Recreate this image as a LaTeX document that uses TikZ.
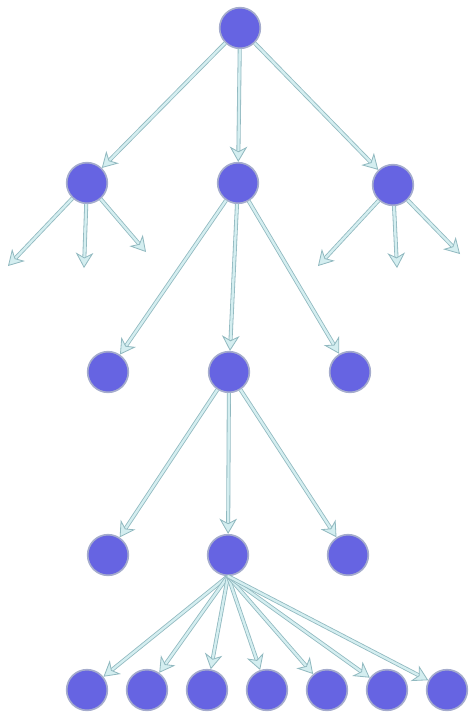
\documentclass[tikz,border=0pt]{standalone}
\usetikzlibrary{arrows.meta}

\definecolor{ball}{RGB}{102,100,226}
\definecolor{rim}{RGB}{165,172,205}
\definecolor{stem}{RGB}{145,185,192}
\definecolor{stemin}{RGB}{212,238,240}

\tikzset{
  ball/.style={circle, fill=ball, draw=rim, line width=1.4pt, minimum size=1.22cm, inner sep=0pt},
  link/.style={draw=stem, line width=0.7pt, double=stemin, double distance=2pt,
    -{Stealth[length=13pt, width=15pt, inset=4pt, fill=stemin, color=stem, line width=0.7pt]}}
}

\begin{document}
\begin{tikzpicture}[x=0.03cm, y=-0.03cm]
  \useasboundingbox (0,0) rectangle (474,720);

  %% root
  \node[ball] (r) at (240, 28) {};

  %% level 1
  \node[ball] (a1) at (87, 183) {};
  \node[ball] (a2) at (238, 183) {};
  \node[ball] (a3) at (393, 185) {};

  %% open ends
  \coordinate (l1) at (8, 266);
  \coordinate (l2) at (84, 268);
  \coordinate (l3) at (146, 252);
  \coordinate (q1) at (318, 266);
  \coordinate (q2) at (397, 268);
  \coordinate (q3) at (460, 254);

  %% level 2
  \node[ball] (b1) at (108, 372) {};
  \node[ball] (b2) at (229, 372) {};
  \node[ball] (b3) at (350, 372) {};

  %% level 3
  \node[ball] (c1) at (108, 555) {};
  \node[ball] (c2) at (228, 555) {};
  \node[ball] (c3) at (348, 555) {};

  %% bottom row
  \foreach \i/\x in {1/87, 2/147, 3/207, 4/267, 5/327, 6/387, 7/447}
    \node[ball] (d\i) at (\x, 690) {};

  %% links
  \draw[link] (r) -- (a1);
  \draw[link] (r) -- (a2);
  \draw[link] (r) -- (a3);

  \draw[link] (a1) -- (l1);
  \draw[link] (a1) -- (l2);
  \draw[link] (a1) -- (l3);
  \draw[link] (a3) -- (q1);
  \draw[link] (a3) -- (q2);
  \draw[link] (a3) -- (q3);

  \draw[link] (a2) -- (b1);
  \draw[link] (a2) -- (b2);
  \draw[link] (a2) -- (b3);

  \draw[link] (b2) -- (c1);
  \draw[link] (b2) -- (c2);
  \draw[link] (b2) -- (c3);

  \foreach \i in {1,...,7}
    \draw[link] (c2.south) -- (d\i);

\end{tikzpicture}
\end{document}
